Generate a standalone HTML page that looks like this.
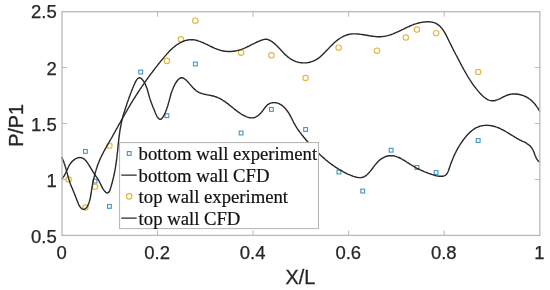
<!DOCTYPE html>
<html><head><meta charset="utf-8"><title>P/P1 vs X/L</title>
<style>html,body{margin:0;padding:0;background:#fff}svg{display:block}</style></head>
<body><svg width="550" height="290" viewBox="0 0 550 290">
<rect x="0" y="0" width="550" height="290" fill="#fff"/>
<rect x="83.5" y="149.5" width="3.8" height="3.8" fill="none" stroke="#4595bf" stroke-width="1.1"/>
<rect x="93.1" y="179.3" width="3.8" height="3.8" fill="none" stroke="#4595bf" stroke-width="1.1"/>
<rect x="107.5" y="204.5" width="3.8" height="3.8" fill="none" stroke="#4595bf" stroke-width="1.1"/>
<rect x="138.8" y="70.1" width="3.8" height="3.8" fill="none" stroke="#4595bf" stroke-width="1.1"/>
<rect x="165.0" y="113.8" width="3.8" height="3.8" fill="none" stroke="#4595bf" stroke-width="1.1"/>
<rect x="193.5" y="62.1" width="3.8" height="3.8" fill="none" stroke="#4595bf" stroke-width="1.1"/>
<rect x="239.2" y="131.1" width="3.8" height="3.8" fill="none" stroke="#4595bf" stroke-width="1.1"/>
<rect x="269.5" y="107.5" width="3.8" height="3.8" fill="none" stroke="#4595bf" stroke-width="1.1"/>
<rect x="303.7" y="127.6" width="3.8" height="3.8" fill="none" stroke="#4595bf" stroke-width="1.1"/>
<rect x="337.0" y="170.1" width="3.8" height="3.8" fill="none" stroke="#4595bf" stroke-width="1.1"/>
<rect x="360.8" y="189.2" width="3.8" height="3.8" fill="none" stroke="#4595bf" stroke-width="1.1"/>
<rect x="389.2" y="148.3" width="3.8" height="3.8" fill="none" stroke="#4595bf" stroke-width="1.1"/>
<rect x="415.1" y="165.6" width="3.8" height="3.8" fill="none" stroke="#4595bf" stroke-width="1.1"/>
<rect x="434.2" y="170.6" width="3.8" height="3.8" fill="none" stroke="#4595bf" stroke-width="1.1"/>
<rect x="476.3" y="138.6" width="3.8" height="3.8" fill="none" stroke="#4595bf" stroke-width="1.1"/>
<path d="M61.6 179.0L62.4 178.2L63.0 177.4L63.7 176.5L64.3 175.6L64.8 174.7L65.3 173.7L65.8 172.8L66.2 171.8L66.7 170.8L67.1 169.8L67.6 168.7L68.1 167.8L68.5 166.8L69.0 165.8L69.6 164.8L70.2 163.9L70.8 163.0L71.5 162.2L72.3 161.3L73.1 160.6L74.0 159.9L74.9 159.2L75.9 158.6L77.0 158.2L78.0 157.8L79.0 157.6L79.9 157.5L80.9 157.6L81.7 157.8L82.6 158.1L83.4 158.6L84.2 159.1L84.9 159.8L85.7 160.5L86.4 161.3L87.0 162.2L87.7 163.1L88.3 164.1L89.0 165.1L89.6 166.1L90.2 167.1L90.8 168.2L91.4 169.2L92.0 170.2L92.6 171.2L93.2 172.2L93.8 173.1L94.4 174.0L95.0 174.9L95.5 175.7L96.1 176.5L96.7 177.4L97.3 178.2L97.8 179.0L98.4 179.9L98.9 180.8L99.4 181.8L99.9 182.8L100.4 183.8L100.9 184.8L101.4 185.9L101.9 186.9L102.4 187.9L103.0 188.9L103.7 189.9L104.4 190.8L105.1 191.6L105.9 192.3L106.7 192.8L107.4 193.0L108.0 192.8L108.6 192.4L109.1 191.8L109.6 190.9L110.0 189.9L110.4 188.8L110.7 187.6L111.1 186.5L111.4 185.3L111.7 184.2L112.1 183.1L112.4 181.9L112.6 180.8L112.9 179.7L113.2 178.6L113.4 177.5L113.7 176.4L113.9 175.3L114.2 174.3L114.4 173.2L114.6 172.1L114.8 171.1L115.0 170.0L115.2 168.9L115.4 167.9L115.5 166.8L115.7 165.8L115.9 164.7L116.0 163.7L116.2 162.6L116.3 161.6L116.5 160.5L116.6 159.5L116.7 158.4L116.9 157.4L117.0 156.3L117.1 155.3L117.2 154.2L117.3 153.2L117.5 152.1L117.6 151.1L117.7 150.0L117.8 149.0L117.9 147.9L118.0 146.8L118.1 145.8L118.2 144.7L118.3 143.6L118.5 142.6L118.6 141.5L118.7 140.4L118.8 139.3L118.9 138.3L119.1 137.2L119.2 136.1L119.3 135.0L119.5 133.9L119.6 132.9L119.8 131.8L119.9 130.7L120.1 129.6L120.3 128.5L120.5 127.5L120.7 126.4L120.9 125.3L121.1 124.2L121.3 123.2L121.5 122.1L121.8 121.0L122.0 120.0L122.3 118.9L122.6 117.9L122.9 116.8L123.1 115.8L123.4 114.7L123.7 113.7L124.1 112.6L124.4 111.6L124.7 110.6L125.0 109.6L125.4 108.6L125.7 107.5L126.0 106.5L126.4 105.5L126.7 104.6L127.0 103.6L127.4 102.6L127.7 101.6L128.0 100.7L128.4 99.7L128.7 98.8L129.0 97.8L129.4 96.9L129.7 95.9L130.1 94.9L130.4 94.0L130.8 93.0L131.2 91.9L131.6 90.9L132.0 89.9L132.5 88.8L132.9 87.6L133.4 86.5L133.9 85.3L134.5 84.1L135.0 82.8L135.6 81.7L136.2 80.6L136.9 79.6L137.5 78.8L138.2 78.2L139.0 77.8L139.7 77.8L140.5 78.0L141.3 78.6L142.0 79.3L142.8 80.2L143.5 81.2L144.2 82.2L144.8 83.3L145.3 84.3L145.8 85.4L146.2 86.4L146.6 87.4L147.0 88.5L147.3 89.5L147.6 90.5L147.9 91.5L148.2 92.6L148.5 93.6L148.7 94.5L149.0 95.5L149.3 96.5L149.5 97.4L149.8 98.4L150.1 99.3L150.5 100.3L150.8 101.2L151.1 102.2L151.5 103.2L151.9 104.2L152.3 105.2L152.7 106.3L153.1 107.4L153.6 108.6L154.1 109.8L154.6 111.0L155.1 112.3L155.6 113.5L156.2 114.7L156.7 115.8L157.3 116.8L157.9 117.7L158.5 118.4L159.1 118.9L159.7 119.2L160.4 119.3L161.0 119.1L161.6 118.6L162.2 118.0L162.9 117.2L163.5 116.2L164.1 115.2L164.6 114.0L165.2 112.7L165.7 111.5L166.2 110.2L166.7 108.9L167.1 107.7L167.5 106.5L167.9 105.3L168.2 104.2L168.5 103.1L168.8 102.1L169.1 101.1L169.3 100.1L169.6 99.1L169.9 98.1L170.1 97.2L170.4 96.2L170.6 95.3L170.9 94.3L171.2 93.3L171.5 92.4L171.9 91.3L172.3 90.3L172.7 89.3L173.1 88.2L173.6 87.0L174.2 85.9L174.7 84.7L175.3 83.6L176.0 82.5L176.7 81.5L177.4 80.5L178.1 79.7L178.9 79.0L179.7 78.4L180.5 78.0L181.3 77.8L182.1 77.8L183.0 78.0L183.8 78.4L184.7 79.0L185.6 79.7L186.5 80.4L187.3 81.3L188.2 82.2L189.0 83.1L189.8 84.1L190.6 85.0L191.4 85.9L192.1 86.7L192.9 87.6L193.6 88.4L194.4 89.1L195.2 89.8L195.9 90.5L196.8 91.1L197.6 91.6L198.5 92.1L199.4 92.6L200.4 93.0L201.4 93.3L202.4 93.7L203.4 93.9L204.5 94.2L205.5 94.4L206.6 94.7L207.7 94.9L208.8 95.1L209.9 95.3L211.0 95.6L212.1 95.8L213.1 96.0L214.2 96.3L215.2 96.6L216.3 97.0L217.3 97.4L218.2 97.8L219.2 98.2L220.1 98.7L221.0 99.2L222.0 99.7L222.8 100.3L223.7 100.8L224.6 101.4L225.5 102.0L226.3 102.7L227.2 103.3L228.0 103.9L228.9 104.6L229.7 105.3L230.6 106.0L231.4 106.6L232.3 107.3L233.1 108.0L234.0 108.7L234.8 109.4L235.7 110.1L236.6 110.8L237.5 111.4L238.4 112.1L239.3 112.7L240.3 113.4L241.2 114.0L242.2 114.6L243.2 115.2L244.2 115.7L245.2 116.2L246.2 116.7L247.3 117.1L248.3 117.4L249.3 117.7L250.4 117.8L251.4 117.9L252.4 117.9L253.4 117.7L254.4 117.5L255.4 117.1L256.3 116.7L257.3 116.1L258.2 115.5L259.0 114.8L259.9 114.0L260.6 113.2L261.4 112.4L262.1 111.5L262.8 110.6L263.5 109.7L264.1 108.8L264.8 107.9L265.5 107.0L266.2 106.2L266.9 105.4L267.7 104.8L268.6 104.1L269.5 103.6L270.5 103.2L271.5 102.9L272.6 102.7L273.6 102.6L274.7 102.6L275.7 102.7L276.8 102.9L277.8 103.2L278.8 103.6L279.7 104.0L280.7 104.6L281.6 105.2L282.5 105.8L283.3 106.6L284.1 107.3L284.9 108.1L285.7 109.0L286.4 109.9L287.1 110.8L287.8 111.7L288.4 112.6L289.0 113.5L289.5 114.5L290.1 115.4L290.6 116.4L291.1 117.3L291.6 118.3L292.1 119.2L292.6 120.2L293.1 121.2L293.5 122.1L294.0 123.1L294.6 124.0L295.1 124.9L295.6 125.8L296.2 126.8L296.7 127.7L297.3 128.6L297.9 129.5L298.5 130.3L299.2 131.2L299.8 132.1L300.4 132.9L301.1 133.8L301.7 134.7L302.4 135.5L303.1 136.3L303.8 137.2L304.5 138.0L305.2 138.8L305.9 139.7L306.6 140.5L307.3 141.3L308.0 142.1L308.7 142.9L309.4 143.7L310.1 144.5L310.8 145.3L311.6 146.1L312.3 146.9L313.0 147.7L313.8 148.4L314.5 149.2L315.3 150.0L316.0 150.8L316.8 151.5L317.5 152.3L318.3 153.0L319.1 153.8L319.8 154.5L320.6 155.2L321.4 156.0L322.2 156.7L323.0 157.4L323.8 158.1L324.6 158.8L325.4 159.5L326.2 160.2L327.1 160.9L327.9 161.5L328.7 162.2L329.6 162.9L330.5 163.5L331.3 164.2L332.2 164.8L333.1 165.4L334.0 166.0L334.9 166.7L335.8 167.3L336.7 167.9L337.6 168.4L338.5 169.0L339.5 169.6L340.4 170.1L341.4 170.7L342.3 171.2L343.3 171.8L344.3 172.3L345.3 172.8L346.3 173.3L347.3 173.8L348.3 174.3L349.4 174.7L350.4 175.2L351.5 175.6L352.5 176.0L353.6 176.4L354.6 176.7L355.6 177.0L356.7 177.3L357.7 177.4L358.7 177.6L359.7 177.6L360.7 177.6L361.6 177.5L362.5 177.3L363.4 177.0L364.3 176.6L365.1 176.2L365.9 175.6L366.7 175.0L367.5 174.3L368.2 173.6L369.0 172.8L369.7 171.9L370.4 171.1L371.2 170.1L371.9 169.2L372.6 168.3L373.3 167.3L374.0 166.4L374.7 165.4L375.5 164.5L376.2 163.6L377.0 162.7L377.8 161.8L378.6 161.0L379.4 160.3L380.3 159.6L381.2 158.9L382.1 158.3L383.0 157.8L384.0 157.3L384.9 156.9L385.9 156.5L386.9 156.2L387.8 156.0L388.8 155.8L389.8 155.7L390.8 155.7L391.8 155.7L392.8 155.8L393.8 155.9L394.8 156.2L395.8 156.4L396.8 156.8L397.8 157.1L398.8 157.5L399.8 158.0L400.8 158.5L401.7 159.0L402.7 159.6L403.7 160.1L404.7 160.7L405.6 161.3L406.6 162.0L407.6 162.6L408.5 163.2L409.5 163.8L410.4 164.4L411.4 165.0L412.3 165.6L413.3 166.2L414.2 166.7L415.1 167.3L416.1 167.8L417.0 168.3L417.9 168.7L418.9 169.2L419.8 169.7L420.8 170.1L421.7 170.5L422.7 170.9L423.6 171.4L424.6 171.8L425.6 172.1L426.5 172.5L427.5 172.9L428.5 173.3L429.5 173.6L430.6 174.0L431.6 174.4L432.6 174.7L433.7 175.1L434.8 175.4L435.9 175.7L437.0 175.9L438.1 176.1L439.2 176.3L440.3 176.3L441.4 176.3L442.5 176.2L443.6 176.0L444.6 175.6L445.5 175.1L446.2 174.5L446.9 173.7L447.5 172.8L448.0 171.8L448.4 170.8L448.8 169.7L449.2 168.6L449.5 167.5L449.9 166.4L450.3 165.3L450.6 164.2L451.0 163.2L451.4 162.2L451.8 161.2L452.2 160.2L452.6 159.2L453.0 158.2L453.4 157.3L453.8 156.3L454.2 155.4L454.7 154.4L455.1 153.5L455.6 152.6L456.0 151.7L456.5 150.7L457.0 149.8L457.5 148.9L458.0 148.0L458.6 147.1L459.1 146.2L459.7 145.3L460.2 144.4L460.8 143.4L461.5 142.5L462.1 141.6L462.7 140.7L463.4 139.8L464.1 138.9L464.8 138.0L465.5 137.1L466.2 136.2L467.0 135.3L467.7 134.5L468.5 133.7L469.3 132.9L470.1 132.1L471.0 131.4L471.8 130.7L472.7 130.0L473.6 129.4L474.5 128.8L475.4 128.2L476.3 127.7L477.3 127.3L478.2 126.9L479.2 126.5L480.2 126.2L481.2 125.9L482.2 125.7L483.3 125.6L484.3 125.4L485.4 125.4L486.4 125.3L487.5 125.4L488.5 125.4L489.6 125.5L490.6 125.6L491.7 125.8L492.7 126.0L493.7 126.3L494.8 126.5L495.8 126.9L496.8 127.2L497.8 127.6L498.8 128.0L499.8 128.4L500.7 128.9L501.7 129.3L502.7 129.8L503.6 130.3L504.6 130.9L505.5 131.4L506.5 132.0L507.4 132.5L508.4 133.1L509.3 133.7L510.2 134.3L511.2 134.8L512.1 135.4L513.1 136.0L514.0 136.6L514.9 137.2L515.9 137.7L516.8 138.3L517.8 138.8L518.8 139.3L519.7 139.8L520.7 140.3L521.7 140.8L522.6 141.3L523.6 141.7L524.5 142.2L525.5 142.7L526.4 143.2L527.2 143.8L528.1 144.4L528.9 145.0L529.7 145.6L530.4 146.3L531.1 147.1L531.7 147.9L532.3 148.8L532.9 149.8L533.3 150.8L533.8 151.9L534.2 153.0L534.6 154.1L535.0 155.2L535.5 156.3L535.9 157.3L536.4 158.4L537.0 159.3L537.6 160.2L538.3 161.0L539.1 161.6L540.0 162.2" fill="none" stroke="#282828" stroke-width="1.4" stroke-linejoin="round"/>
<circle cx="68.6" cy="179.5" r="2.7" fill="none" stroke="#e0bb48" stroke-width="1.2"/>
<circle cx="85.4" cy="207.6" r="2.7" fill="none" stroke="#e0bb48" stroke-width="1.2"/>
<circle cx="95.0" cy="186.8" r="2.7" fill="none" stroke="#e0bb48" stroke-width="1.2"/>
<circle cx="109.4" cy="145.8" r="2.7" fill="none" stroke="#e0bb48" stroke-width="1.2"/>
<circle cx="166.9" cy="60.9" r="2.7" fill="none" stroke="#e0bb48" stroke-width="1.2"/>
<circle cx="180.9" cy="39.3" r="2.7" fill="none" stroke="#e0bb48" stroke-width="1.2"/>
<circle cx="195.3" cy="20.7" r="2.7" fill="none" stroke="#e0bb48" stroke-width="1.2"/>
<circle cx="241.1" cy="52.7" r="2.7" fill="none" stroke="#e0bb48" stroke-width="1.2"/>
<circle cx="271.4" cy="55.3" r="2.7" fill="none" stroke="#e0bb48" stroke-width="1.2"/>
<circle cx="305.5" cy="78.0" r="2.7" fill="none" stroke="#e0bb48" stroke-width="1.2"/>
<circle cx="338.6" cy="47.7" r="2.7" fill="none" stroke="#e0bb48" stroke-width="1.2"/>
<circle cx="377.0" cy="50.7" r="2.7" fill="none" stroke="#e0bb48" stroke-width="1.2"/>
<circle cx="405.8" cy="37.5" r="2.7" fill="none" stroke="#e0bb48" stroke-width="1.2"/>
<circle cx="416.9" cy="29.6" r="2.7" fill="none" stroke="#e0bb48" stroke-width="1.2"/>
<circle cx="436.1" cy="33.2" r="2.7" fill="none" stroke="#e0bb48" stroke-width="1.2"/>
<circle cx="478.2" cy="72.0" r="2.7" fill="none" stroke="#e0bb48" stroke-width="1.2"/>
<path d="M61.6 157.0L62.0 157.9L62.4 158.8L62.8 159.7L63.2 160.6L63.6 161.5L63.9 162.4L64.2 163.3L64.6 164.3L64.9 165.2L65.2 166.2L65.5 167.1L65.7 168.1L66.0 169.1L66.3 170.0L66.6 171.0L66.8 172.0L67.1 172.9L67.4 173.9L67.6 174.9L67.9 175.8L68.2 176.8L68.4 177.7L68.7 178.7L69.0 179.7L69.3 180.6L69.6 181.5L69.9 182.5L70.2 183.4L70.5 184.3L70.9 185.2L71.2 186.1L71.6 187.0L72.0 187.9L72.4 188.7L72.7 189.6L73.1 190.5L73.5 191.3L73.8 192.2L74.2 193.1L74.5 194.0L74.9 194.9L75.3 195.8L75.6 196.8L76.0 197.7L76.4 198.7L76.8 199.8L77.2 200.8L77.6 201.9L78.1 203.0L78.5 204.0L79.0 205.1L79.5 206.0L80.1 206.9L80.7 207.6L81.3 208.3L81.9 208.8L82.6 209.1L83.3 209.3L84.0 209.3L84.7 209.1L85.3 208.7L85.9 208.2L86.5 207.6L87.1 206.8L87.6 206.0L88.0 205.1L88.4 204.2L88.8 203.3L89.1 202.4L89.4 201.4L89.7 200.5L89.9 199.5L90.2 198.5L90.4 197.5L90.6 196.5L90.7 195.5L90.9 194.5L91.0 193.5L91.2 192.5L91.4 191.4L91.5 190.4L91.7 189.4L91.8 188.4L92.0 187.4L92.2 186.4L92.4 185.4L92.5 184.4L92.7 183.4L92.9 182.5L93.1 181.5L93.3 180.5L93.6 179.5L93.8 178.5L94.0 177.6L94.2 176.6L94.5 175.7L94.7 174.7L95.0 173.7L95.3 172.8L95.5 171.8L95.8 170.9L96.1 169.9L96.4 169.0L96.7 168.1L97.0 167.1L97.3 166.2L97.6 165.3L98.0 164.4L98.3 163.5L98.7 162.5L99.0 161.6L99.4 160.7L99.8 159.8L100.2 158.9L100.6 158.0L101.0 157.2L101.4 156.3L101.8 155.4L102.3 154.5L102.7 153.6L103.2 152.8L103.6 151.9L104.1 151.0L104.6 150.2L105.0 149.3L105.5 148.4L106.0 147.6L106.5 146.7L107.0 145.9L107.5 145.0L108.0 144.1L108.5 143.3L108.9 142.4L109.4 141.6L109.9 140.7L110.4 139.8L110.9 139.0L111.4 138.1L111.9 137.3L112.4 136.4L112.8 135.5L113.3 134.7L113.8 133.8L114.3 132.9L114.8 132.1L115.3 131.2L115.7 130.4L116.2 129.5L116.7 128.6L117.2 127.8L117.7 126.9L118.1 126.0L118.6 125.2L119.1 124.3L119.6 123.4L120.1 122.6L120.6 121.7L121.0 120.9L121.5 120.0L122.0 119.1L122.5 118.3L123.0 117.4L123.5 116.6L123.9 115.7L124.4 114.8L124.9 114.0L125.4 113.1L125.9 112.3L126.4 111.4L126.9 110.6L127.4 109.7L127.9 108.8L128.4 108.0L128.9 107.1L129.4 106.3L129.9 105.4L130.4 104.6L130.9 103.7L131.4 102.9L131.9 102.1L132.4 101.2L133.0 100.4L133.5 99.5L134.0 98.7L134.5 97.9L135.1 97.0L135.6 96.2L136.1 95.3L136.6 94.5L137.2 93.7L137.7 92.9L138.3 92.0L138.8 91.2L139.3 90.4L139.9 89.6L140.4 88.7L141.0 87.9L141.5 87.1L142.1 86.3L142.6 85.5L143.2 84.6L143.8 83.8L144.3 83.0L144.9 82.2L145.5 81.4L146.0 80.6L146.6 79.8L147.2 79.0L147.8 78.2L148.3 77.4L148.9 76.6L149.5 75.8L150.1 75.0L150.7 74.2L151.3 73.4L151.9 72.6L152.5 71.8L153.1 71.0L153.7 70.2L154.3 69.5L154.9 68.7L155.5 67.9L156.1 67.1L156.7 66.3L157.3 65.6L157.9 64.8L158.5 64.0L159.1 63.2L159.8 62.5L160.4 61.7L161.0 60.9L161.6 60.2L162.3 59.4L162.9 58.7L163.5 57.9L164.2 57.1L164.8 56.4L165.5 55.6L166.1 54.9L166.8 54.1L167.4 53.4L168.1 52.7L168.8 51.9L169.4 51.2L170.1 50.5L170.8 49.8L171.6 49.1L172.3 48.5L173.0 47.8L173.8 47.2L174.6 46.5L175.4 45.9L176.2 45.3L177.0 44.7L177.9 44.2L178.7 43.7L179.6 43.1L180.5 42.7L181.4 42.2L182.3 41.8L183.2 41.4L184.1 41.0L185.0 40.7L185.9 40.4L186.8 40.2L187.8 40.0L188.7 39.9L189.6 39.7L190.6 39.7L191.5 39.7L192.4 39.7L193.4 39.8L194.3 39.9L195.2 40.1L196.2 40.3L197.1 40.5L198.0 40.8L198.9 41.1L199.9 41.4L200.8 41.8L201.7 42.1L202.7 42.5L203.6 42.9L204.5 43.4L205.4 43.8L206.4 44.2L207.3 44.7L208.2 45.2L209.2 45.6L210.1 46.1L211.0 46.5L212.0 47.0L212.9 47.4L213.8 47.8L214.8 48.3L215.7 48.7L216.7 49.0L217.6 49.4L218.6 49.7L219.5 50.1L220.5 50.3L221.4 50.6L222.4 50.8L223.4 51.0L224.3 51.2L225.3 51.3L226.3 51.4L227.2 51.5L228.2 51.5L229.2 51.5L230.1 51.5L231.1 51.5L232.1 51.4L233.0 51.3L234.0 51.2L235.0 51.0L235.9 50.9L236.9 50.7L237.8 50.4L238.8 50.2L239.7 49.9L240.7 49.6L241.6 49.3L242.5 48.9L243.4 48.6L244.4 48.2L245.3 47.8L246.2 47.4L247.1 46.9L248.0 46.5L248.9 46.1L249.8 45.6L250.7 45.1L251.6 44.7L252.5 44.2L253.4 43.8L254.3 43.3L255.3 42.9L256.2 42.4L257.1 42.0L258.0 41.6L258.9 41.2L259.8 40.8L260.7 40.5L261.6 40.1L262.6 39.8L263.5 39.6L264.4 39.4L265.3 39.3L266.3 39.3L267.2 39.4L268.1 39.6L268.9 40.0L269.8 40.4L270.7 40.8L271.5 41.4L272.3 41.9L273.1 42.5L273.9 43.1L274.6 43.7L275.3 44.3L276.0 45.0L276.8 45.7L277.4 46.4L278.1 47.1L278.8 47.8L279.5 48.6L280.2 49.3L280.9 50.0L281.5 50.8L282.2 51.5L282.9 52.2L283.6 53.0L284.3 53.7L285.0 54.4L285.8 55.1L286.5 55.8L287.3 56.4L288.1 57.1L288.9 57.7L289.7 58.3L290.6 58.9L291.4 59.4L292.3 59.9L293.2 60.4L294.2 60.8L295.1 61.2L296.0 61.6L297.0 61.9L297.9 62.2L298.9 62.4L299.9 62.6L300.9 62.7L301.8 62.8L302.8 62.9L303.8 62.9L304.8 62.9L305.8 62.9L306.7 62.8L307.7 62.6L308.7 62.5L309.6 62.3L310.5 62.0L311.5 61.7L312.4 61.4L313.3 61.1L314.1 60.7L315.0 60.3L315.8 59.8L316.6 59.4L317.4 58.9L318.2 58.3L319.0 57.8L319.7 57.2L320.5 56.6L321.2 55.9L321.9 55.3L322.6 54.6L323.3 53.9L324.0 53.2L324.7 52.5L325.4 51.8L326.1 51.1L326.8 50.3L327.5 49.6L328.2 48.9L328.9 48.1L329.6 47.4L330.3 46.6L331.0 45.9L331.7 45.2L332.5 44.4L333.2 43.7L334.0 43.0L334.8 42.3L335.5 41.6L336.3 41.0L337.1 40.3L338.0 39.7L338.8 39.1L339.6 38.5L340.5 38.0L341.4 37.5L342.2 37.0L343.1 36.5L344.0 36.1L344.9 35.7L345.8 35.3L346.7 35.0L347.6 34.7L348.5 34.5L349.5 34.3L350.4 34.1L351.4 34.0L352.3 33.9L353.3 33.9L354.2 33.9L355.2 33.9L356.2 33.9L357.1 34.0L358.1 34.0L359.1 34.1L360.1 34.3L361.1 34.4L362.1 34.5L363.1 34.7L364.1 34.8L365.1 35.0L366.1 35.2L367.1 35.3L368.1 35.5L369.0 35.7L370.0 35.9L371.0 36.0L372.0 36.2L373.0 36.3L374.0 36.4L375.0 36.5L376.0 36.6L377.0 36.7L378.0 36.7L379.0 36.7L380.0 36.7L380.9 36.7L381.9 36.6L382.9 36.5L383.8 36.4L384.8 36.3L385.7 36.1L386.7 35.9L387.6 35.6L388.6 35.4L389.5 35.1L390.4 34.8L391.4 34.5L392.3 34.1L393.2 33.8L394.1 33.4L395.0 33.0L396.0 32.7L396.9 32.2L397.8 31.8L398.7 31.4L399.5 31.0L400.4 30.6L401.3 30.1L402.2 29.7L403.1 29.3L403.9 28.9L404.8 28.4L405.7 28.0L406.6 27.6L407.4 27.2L408.3 26.8L409.2 26.4L410.1 26.0L411.0 25.6L411.9 25.2L412.8 24.9L413.7 24.5L414.6 24.2L415.6 23.9L416.5 23.6L417.5 23.3L418.5 23.0L419.4 22.8L420.4 22.6L421.5 22.4L422.5 22.2L423.5 22.1L424.6 22.0L425.6 21.9L426.7 21.8L427.7 21.8L428.8 21.8L429.8 21.9L430.8 22.0L431.8 22.1L432.8 22.3L433.7 22.6L434.6 22.9L435.5 23.2L436.3 23.6L437.1 24.1L437.9 24.6L438.6 25.1L439.3 25.7L440.0 26.3L440.7 27.0L441.3 27.7L441.9 28.4L442.5 29.2L443.0 29.9L443.6 30.8L444.1 31.6L444.6 32.4L445.1 33.3L445.6 34.2L446.1 35.1L446.6 36.0L447.0 36.9L447.5 37.8L447.9 38.8L448.4 39.7L448.8 40.6L449.3 41.5L449.7 42.5L450.2 43.4L450.7 44.3L451.1 45.2L451.6 46.1L452.0 47.0L452.5 47.9L452.9 48.8L453.4 49.7L453.8 50.6L454.3 51.5L454.7 52.3L455.2 53.2L455.6 54.1L456.1 55.0L456.6 55.8L457.0 56.7L457.5 57.6L457.9 58.4L458.4 59.3L458.8 60.2L459.3 61.0L459.7 61.9L460.2 62.7L460.6 63.6L461.1 64.4L461.5 65.3L462.0 66.1L462.4 67.0L462.9 67.8L463.4 68.7L463.8 69.5L464.3 70.3L464.7 71.2L465.2 72.0L465.7 72.9L466.2 73.7L466.6 74.5L467.1 75.3L467.6 76.2L468.1 77.0L468.6 77.8L469.2 78.7L469.7 79.5L470.2 80.3L470.8 81.2L471.3 82.0L471.9 82.8L472.4 83.6L473.0 84.5L473.6 85.3L474.2 86.1L474.8 86.9L475.5 87.8L476.1 88.6L476.8 89.4L477.4 90.2L478.1 91.1L478.8 91.9L479.5 92.7L480.3 93.5L481.0 94.3L481.8 95.1L482.5 95.8L483.3 96.5L484.1 97.2L484.9 97.8L485.7 98.4L486.5 98.9L487.3 99.4L488.2 99.8L489.0 100.1L489.9 100.4L490.8 100.6L491.6 100.8L492.5 100.8L493.4 100.8L494.3 100.7L495.2 100.5L496.1 100.2L497.0 99.9L497.9 99.6L498.8 99.2L499.7 98.8L500.7 98.3L501.6 97.9L502.4 97.4L503.3 96.9L504.2 96.5L505.1 96.1L505.9 95.7L506.8 95.3L507.7 95.0L508.6 94.7L509.5 94.5L510.4 94.3L511.4 94.1L512.4 94.0L513.3 94.0L514.3 93.9L515.4 94.0L516.4 94.0L517.4 94.2L518.4 94.3L519.4 94.5L520.4 94.8L521.4 95.0L522.4 95.3L523.4 95.7L524.4 96.1L525.3 96.5L526.2 96.9L527.1 97.4L527.9 97.9L528.7 98.4L529.5 99.0L530.3 99.5L531.0 100.1L531.7 100.8L532.4 101.4L533.1 102.1L533.7 102.8L534.4 103.5L535.0 104.3L535.6 105.0L536.2 105.8L536.7 106.6L537.3 107.4L537.9 108.2L538.4 109.1L538.9 109.9L539.5 110.8L540.0 111.7" fill="none" stroke="#282828" stroke-width="1.4" stroke-linejoin="round"/>
<rect x="62.0" y="11.7" width="477.8" height="223.7" fill="none" stroke="#b9b9b9" stroke-width="1.3"/>
<path d="M157.6 235.4v-5M157.6 11.7v5M253.1 235.4v-5M253.1 11.7v5M348.7 235.4v-5M348.7 11.7v5M444.2 235.4v-5M444.2 11.7v5M62.0 179.5h5M539.8 179.5h-5M62.0 123.5h5M539.8 123.5h-5M62.0 67.6h5M539.8 67.6h-5" stroke="#b9b9b9" stroke-width="1.0" fill="none"/>
<g font-family="'Liberation Sans', Arial, sans-serif" font-size="18.5" fill="#262626" stroke="#262626" stroke-width="0.25">
<text x="61.6" y="259.3" text-anchor="middle">0</text>
<text x="157.2" y="259.3" text-anchor="middle">0.2</text>
<text x="252.7" y="259.3" text-anchor="middle">0.4</text>
<text x="348.3" y="259.3" text-anchor="middle">0.6</text>
<text x="443.8" y="259.3" text-anchor="middle">0.8</text>
<text x="539.4" y="259.3" text-anchor="middle">1</text>
<text x="56.7" y="242.8" text-anchor="end">0.5</text>
<text x="56.7" y="186.7" text-anchor="end">1</text>
<text x="56.7" y="130.7" text-anchor="end">1.5</text>
<text x="56.7" y="74.9" text-anchor="end">2</text>
<text x="56.7" y="18.3" text-anchor="end">2.5</text>
</g>
<g font-family="'Liberation Sans', Arial, sans-serif" font-size="19.8" fill="#262626" stroke="#262626" stroke-width="0.3">
<text x="300.3" y="284.2" text-anchor="middle">X/L</text>
<text transform="translate(23.4,125.4) rotate(-90)" text-anchor="middle">P/P1</text>
</g>
<rect x="119.6" y="142.6" width="198.9" height="86" fill="#fff" stroke="#b3b3b3" stroke-width="1"/>
<g font-family="'Liberation Serif', 'Times New Roman', serif" font-size="18.7" fill="#111" stroke="#111" stroke-width="0.2">
<text x="138.6" y="160.0">bottom wall experiment</text>
<text x="138.6" y="181.5">bottom wall CFD</text>
<text x="138.6" y="203.0">top wall experiment</text>
<text x="138.6" y="224.5">top wall CFD</text>
</g>
<rect x="127.3" y="151.6" width="3.8" height="3.8" fill="none" stroke="#4595bf" stroke-width="1.1"/>
<circle cx="129.2" cy="196.4" r="2.7" fill="none" stroke="#e0bb48" stroke-width="1.2"/>
<path d="M121.3 175.1H136.7M121.3 218H136.7" stroke="#2a2a2a" stroke-width="1.25"/>
</svg></body></html>
